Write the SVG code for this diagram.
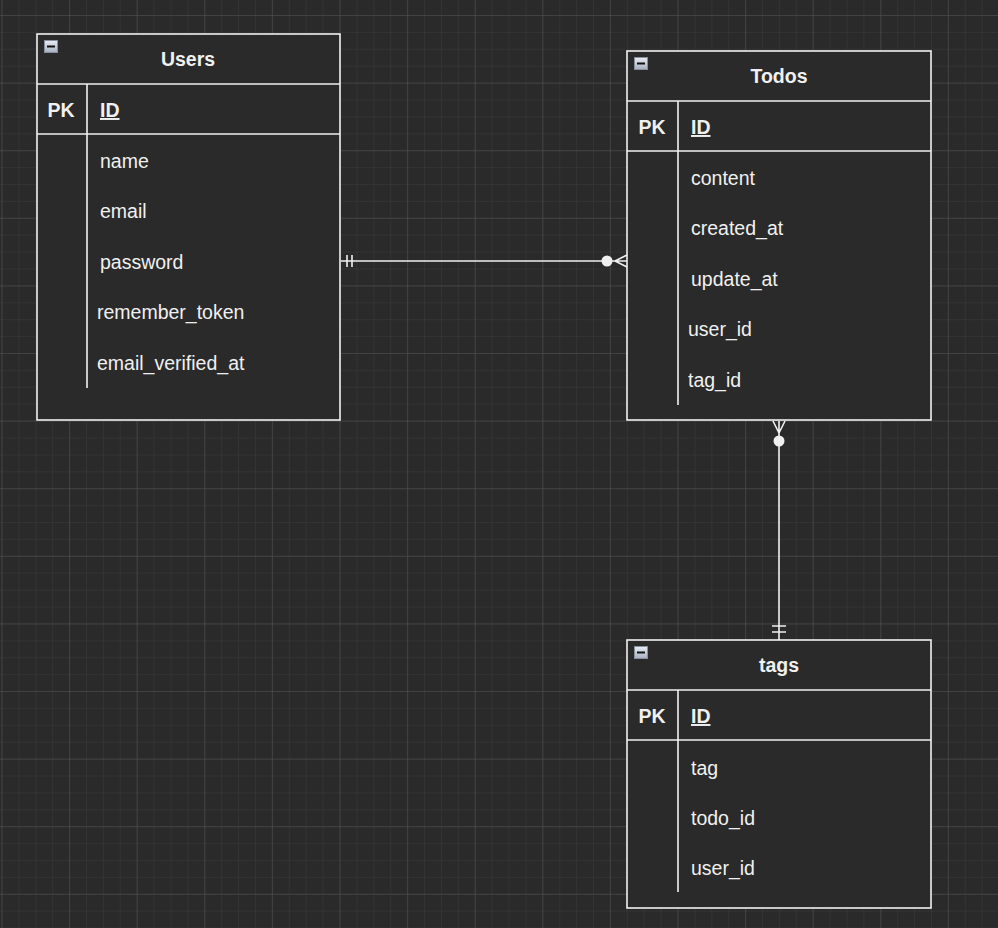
<svg xmlns="http://www.w3.org/2000/svg" width="998" height="928" viewBox="0 0 998 928">
<defs>
<pattern id="minor" x="1.5" y="15" width="16.9" height="16.9" patternUnits="userSpaceOnUse"><path d="M0 0H16.9M0 0V16.9" stroke="#3c3c3c" stroke-width="1" fill="none"/></pattern>
<pattern id="major" x="1.5" y="15" width="67.6" height="67.6" patternUnits="userSpaceOnUse"><path d="M0 0H67.6M0 0V67.6" stroke="#525252" stroke-width="1" fill="none"/></pattern>
<linearGradient id="ig" x1="0" y1="0" x2="0" y2="1"><stop offset="0" stop-color="#e8ecf4"/><stop offset="1" stop-color="#a8b0c0"/></linearGradient>
</defs>
<style>
.box{fill:#2a2a2a;stroke:#f0f0f0;stroke-width:1.6}
.ln{stroke:#f0f0f0;stroke-width:1.6;fill:none}
.h{font-family:"Liberation Sans",Arial,sans-serif;font-weight:bold;font-size:19.5px;fill:#f0f0f0}
.t{font-family:"Liberation Sans",Arial,sans-serif;font-size:19.5px;fill:#f0f0f0}
.c{stroke:#f0f0f0;stroke-width:1.6;fill:none}
</style>
<rect width="998" height="928" fill="#2a2a2a"/>
<rect width="998" height="928" fill="url(#minor)"/>
<rect width="998" height="928" fill="url(#major)"/>

<g id="users">
<rect class="box" x="37" y="34" width="303" height="386"/>
<path class="ln" d="M37 84H340M37 134H340M87 84V388"/>
<rect x="44.5" y="40.5" width="13" height="12" fill="url(#ig)" stroke="#8890a0"/><path d="M47 46.5H55" stroke="#111" stroke-width="2"/>
<text class="h" x="188" y="66" text-anchor="middle">Users</text>
<text class="h" x="61" y="117" text-anchor="middle">PK</text>
<text class="h" x="100" y="117" text-decoration="underline">ID</text>
<text class="t" x="100" y="168">name</text>
<text class="t" x="100" y="218">email</text>
<text class="t" x="100" y="269">password</text>
<text class="t" x="97" y="319">remember_token</text>
<text class="t" x="97" y="370">email_verified_at</text>
</g>

<g id="todos">
<rect class="box" x="627" y="51" width="304" height="369"/>
<path class="ln" d="M627 101H931M627 151H931M678 101V405"/>
<rect x="634.5" y="57.5" width="13" height="12" fill="url(#ig)" stroke="#8890a0"/><path d="M637 63.5H645" stroke="#111" stroke-width="2"/>
<text class="h" x="779" y="83" text-anchor="middle">Todos</text>
<text class="h" x="652" y="134" text-anchor="middle">PK</text>
<text class="h" x="691" y="134" text-decoration="underline">ID</text>
<text class="t" x="691" y="185">content</text>
<text class="t" x="691" y="235">created_at</text>
<text class="t" x="691" y="286">update_at</text>
<text class="t" x="688" y="336">user_id</text>
<text class="t" x="688" y="387">tag_id</text>
</g>

<g id="tags">
<rect class="box" x="627" y="640" width="304" height="268"/>
<path class="ln" d="M627 690H931M627 740H931M678 690V892"/>
<rect x="634.5" y="646.5" width="13" height="12" fill="url(#ig)" stroke="#8890a0"/><path d="M637 652.5H645" stroke="#111" stroke-width="2"/>
<text class="h" x="779" y="672" text-anchor="middle">tags</text>
<text class="h" x="652" y="723" text-anchor="middle">PK</text>
<text class="h" x="691" y="723" text-decoration="underline">ID</text>
<text class="t" x="691" y="775">tag</text>
<text class="t" x="691" y="825">todo_id</text>
<text class="t" x="691" y="875">user_id</text>
</g>

<g id="connectors">
<path class="c" d="M341 261H627M347 255V267M352 255V267M615 261L627 255M615 261L627 267"/>
<circle cx="607" cy="261" r="5.5" fill="#f0f0f0"/>
<path class="c" d="M779 421V640M779 433L773 421M779 433L785 421M772 626H786M772 632H786"/>
<circle cx="779" cy="441" r="5.5" fill="#f0f0f0"/>
</g>
</svg>
